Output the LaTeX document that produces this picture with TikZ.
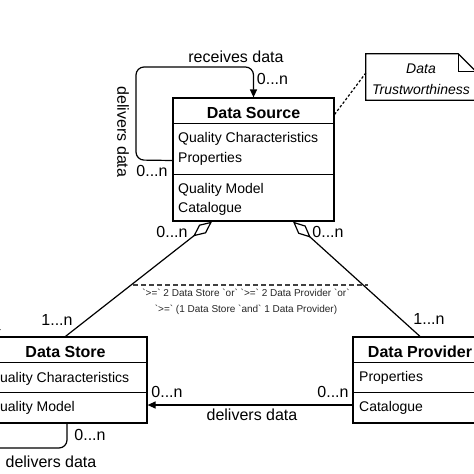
\documentclass[tikz,border=0pt]{standalone}
\usepackage{fontspec}
\setmainfont{Liberation Sans}
\usetikzlibrary{arrows.meta}
\tikzset{
  box/.style={draw, line width=1.2pt, inner sep=0pt},
  sepline/.style={line width=1.2pt},
  titletext/.style={font=\fontsize{16}{19}\selectfont\bfseries, inner sep=0pt},
  attr/.style={font=\fontsize{14}{17}\selectfont, anchor=west, inner sep=0pt},
  lbl/.style={font=\fontsize{16}{19}\selectfont, inner sep=0pt},
  conn/.style={line width=1.2pt, rounded corners=8pt},
  arr/.style={-{Triangle[length=8pt,width=7pt]}},
  agg/.style={line width=1.2pt, {Diamond[open,length=24pt,width=11pt,line width=1.2pt]}-},
  notetext/.style={font=\fontsize{14}{17}\selectfont\itshape, inner sep=0pt},
  constraint/.style={font=\fontsize{10}{16}\selectfont, align=center, inner sep=0pt, text=black!85},
}
\newcommand{\bq}{\textasciigrave}
\begin{document}
\begin{tikzpicture}[x=1pt,y=-1pt]
\useasboundingbox (0,0) rectangle (474,474);

% Data Source
\node[box, minimum width=161pt, minimum height=123pt] (src) at (253.5,159.5) {};
\draw[sepline] ([yshift=-26pt]src.north west) -- ([yshift=-26pt]src.north east);
\draw[sepline] ([yshift=-77pt]src.north west) -- ([yshift=-77pt]src.north east);
\node[titletext] (srcT) at (253.5,113) {Data Source};
\node[attr] (srcA1) at (178,139) {Quality Characteristics};
\node[attr] (srcA2) at (178,159) {Properties};
\node[attr] (srcA3) at (178,190) {Quality Model};
\node[attr] (srcA4) at (178,209) {Catalogue};

% Data Store
\node[box, minimum width=163pt, minimum height=86pt] (ds) at (65.5,380) {};
\draw[sepline] ([yshift=-26pt]ds.north west) -- ([yshift=-26pt]ds.north east);
\draw[sepline] ([yshift=-56pt]ds.north west) -- ([yshift=-56pt]ds.north east);
\node[titletext] (dsT) at (65.5,352) {Data Store};
\node[attr] (dsA1) at (-11,379) {Quality Characteristics};
\node[attr] (dsA2) at (-11,408) {Quality Model};

% Data Provider
\node[box, minimum width=134pt, minimum height=86pt] (dp) at (420,380) {};
\draw[sepline] ([yshift=-26pt]dp.north west) -- ([yshift=-26pt]dp.north east);
\draw[sepline] ([yshift=-56pt]dp.north west) -- ([yshift=-56pt]dp.north east);
\node[titletext] (dpT) at (420,352) {Data Provider};
\node[attr] (dpA1) at (359,378) {Properties};
\node[attr] (dpA2) at (359,408) {Catalogue};

% Note
\node[minimum width=110pt, minimum height=46pt, inner sep=0pt] (note) at (421,77) {};
\draw[line width=1.2pt] (note.north west) -- ([xshift=-18pt]note.north east) -- ([yshift=-18pt]note.north east) -- (note.south east) -- (note.south west) -- cycle;
\draw[line width=1.2pt] ([xshift=-18pt]note.north east) -- ([xshift=-18pt,yshift=-18pt]note.north east) -- ([yshift=-18pt]note.north east);
\node[notetext] (noteA) at (421,69) {Data};
\node[notetext] (noteB) at (421,89) {Trustworthiness};
\draw[line width=1.2pt, dash pattern=on 2.5pt off 2pt] ([yshift=-17pt]src.north east) -- ([yshift=4pt]note.west);

% Self loop on Data Source
\coordinate (srcL1) at (136,160);
\coordinate (srcL2) at (136,67);
\coordinate (srcL3) at (253.5,67);
\draw[conn, arr] ([yshift=-1pt]src.west) -- (srcL1) -- (srcL2) -- (srcL3) -- (src.north);
\node[lbl] (srcRecv) at (236,57) {receives data};
\node[lbl] (srcRecvM) at (272.5,79) {0...n};
\node[lbl, rotate=-90] (srcDel) at (123,132) {delivers data};
\node[lbl] (srcDelM) at (152,171) {0...n};

% Self loop on Data Store
\coordinate (dsL1) at (67,448);
\coordinate (dsL2) at (-40,448);
\coordinate (dsL3) at (-40,320);
\coordinate (dsL4) at (-3,320);
\coordinate (dsL5) at (-3,337);
\draw[conn, arr] ([xshift=1.5pt]ds.south) -- (dsL1) -- (dsL2) -- (dsL3) -- (dsL4) -- (dsL5);
\node[lbl] (dsDelM) at (90,435) {0...n};
\node[lbl] (dsDel) at (51,462) {delivers data};

% Provider delivers data to Store
\draw[line width=1.2pt, arr] ([yshift=-25pt]dp.west) -- ([yshift=-25pt]ds.east);
\node[lbl] (pdM1) at (167,392) {0...n};
\node[lbl] (pdM2) at (333,392) {0...n};
\node[lbl] (pdL) at (252,415) {delivers data};

% Aggregations
\draw[agg] ([xshift=-41.5pt]src.south) -- (ds.north);
\draw[agg] ([xshift=39.5pt]src.south) -- (dp.north);
\node[lbl] (aggM1) at (172,232) {0...n};
\node[lbl] (aggM2) at (328,232) {0...n};
\node[lbl] (aggM3) at (57,320) {1...n};
\node[lbl] (aggM4) at (429,319) {1...n};

% Constraint
\coordinate (cL) at (133,285);
\coordinate (cR) at (368,285);
\draw[line width=1.2pt, dash pattern=on 5pt off 3pt, black!75] (cL) -- (cR);
\node[constraint] (cText) at (246,302) {\bq>=\bq{} 2 Data Store \bq or\bq{} \bq>=\bq{} 2 Data Provider \bq or\bq\\ \bq>=\bq{} (1 Data Store \bq and\bq{} 1 Data Provider)};
\end{tikzpicture}
\end{document}
